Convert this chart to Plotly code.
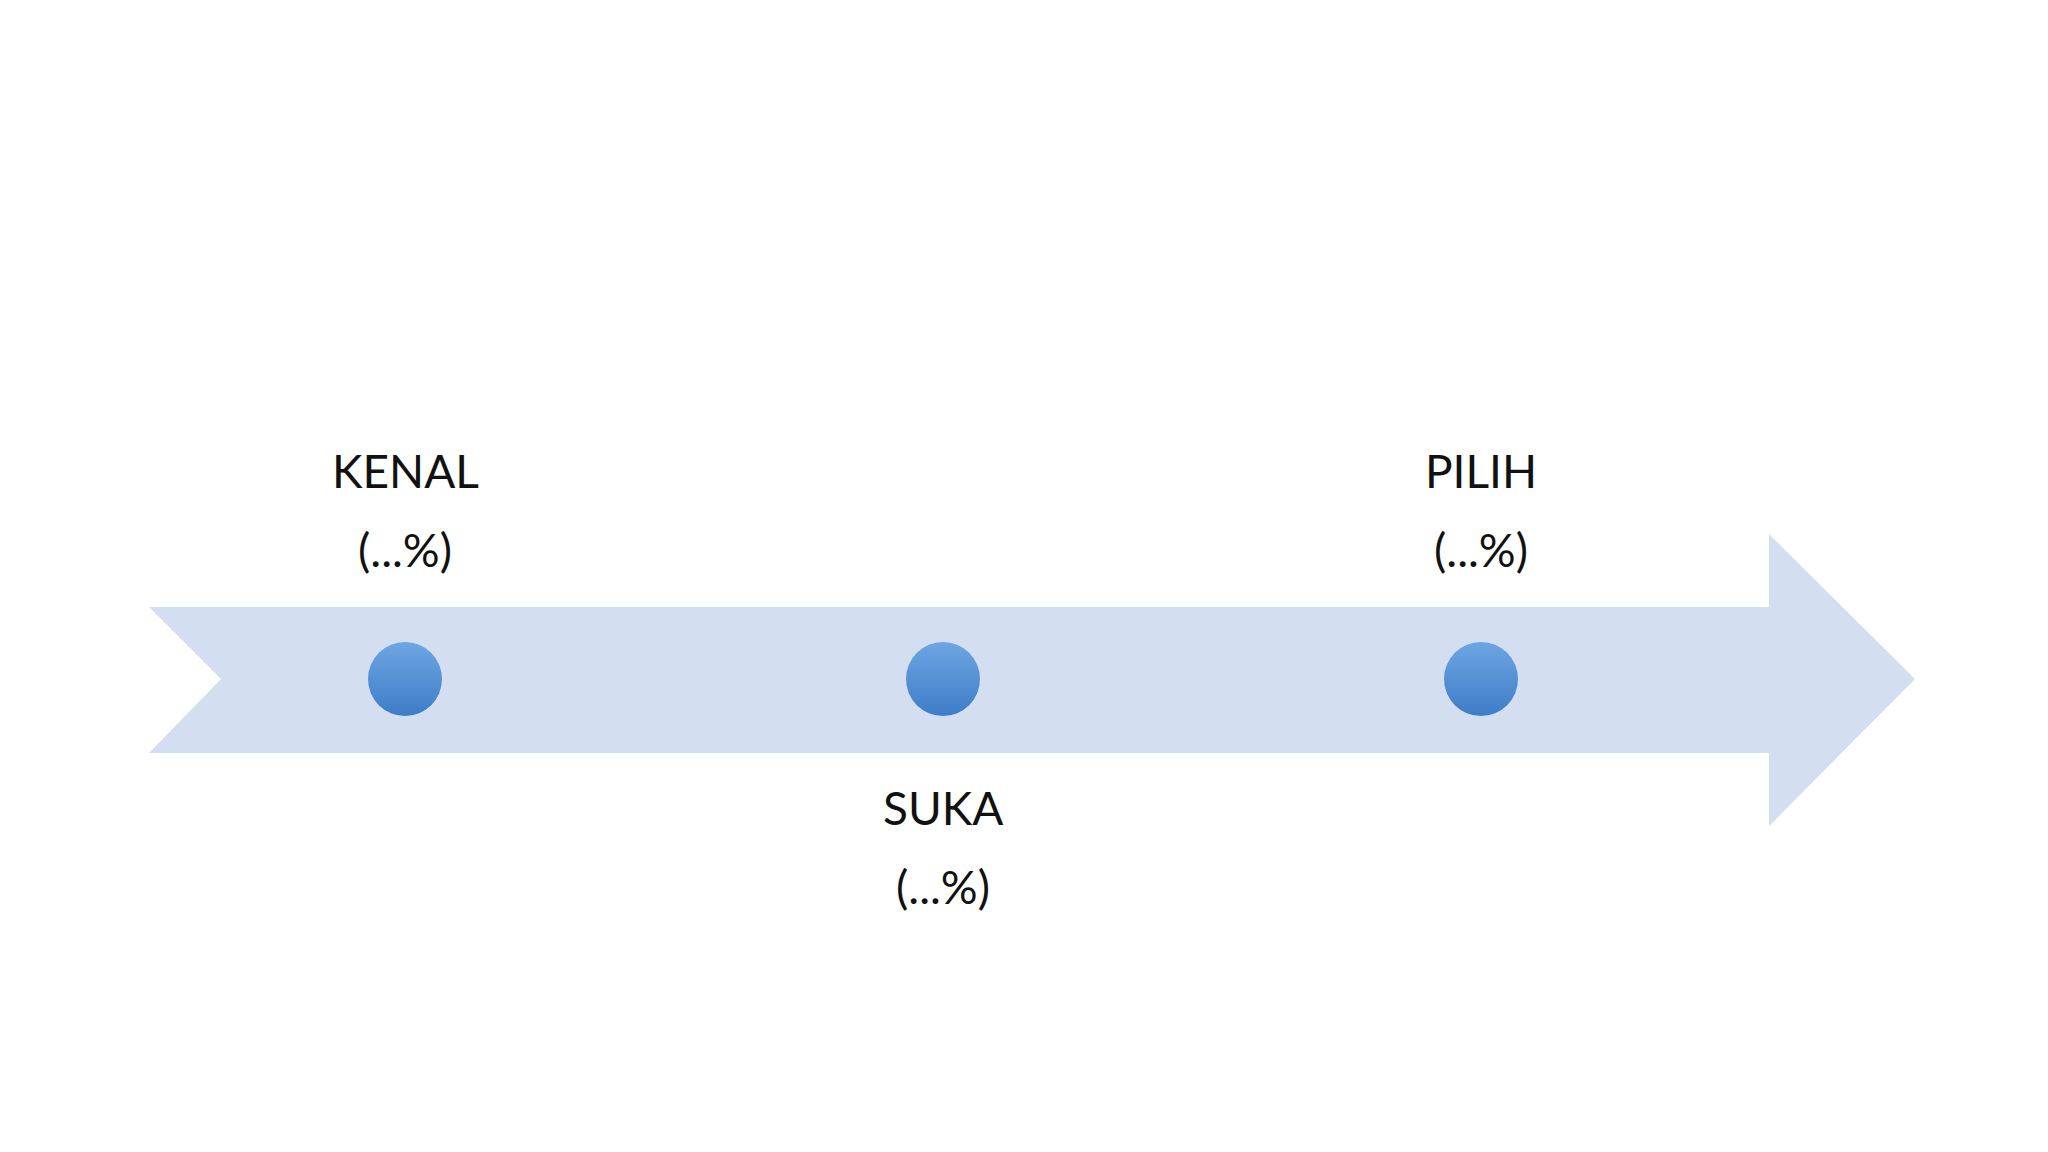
import plotly.graph_objects as go

stages = ["KENAL", "SUKA", "PILIH"]
values = ["(...%)", "(...%)", "(...%)"]
stage_x = [397, 935, 1473]
label_side = ["above", "below", "above"]

W, H = 2048, 1152
cy = 671
fig = go.Figure()

# arrow background
path = ("M141,599 L1761,599 L1761,526 L1907,671 L1761,818 L1761,745 "
        "L141,745 L213,671 Z")
fig.add_shape(type="path", path=path, fillcolor="#d3dff0", line=dict(width=0), layer="below")

fig.add_trace(go.Scatter(
    x=stage_x, y=[cy]*3, mode="markers",
    marker=dict(size=74, color="#6ea6e2",
                gradient=dict(type="vertical", color="#3d7cc7"),
                line=dict(width=0)),
    hoverinfo="skip"))

for name, val, x, side in zip(stages, values, stage_x, label_side):
    y1, y2 = (462, 541) if side == "above" else (799, 878)
    for txt, yy in ((name, y1), (val, y2)):
        fig.add_annotation(x=x, y=yy, text=txt, showarrow=False,
                           font=dict(family="Lato", size=46, color="#111111"),
                           xanchor="center", yanchor="middle")

fig.update_layout(width=W, height=H, margin=dict(l=0, r=0, t=0, b=0),
                  paper_bgcolor="white", plot_bgcolor="white", showlegend=False,
                  xaxis=dict(range=[0, W], visible=False, fixedrange=True),
                  yaxis=dict(range=[H, 0], visible=False, fixedrange=True))
fig.write_html("out.html", config={"displayModeBar": False})
